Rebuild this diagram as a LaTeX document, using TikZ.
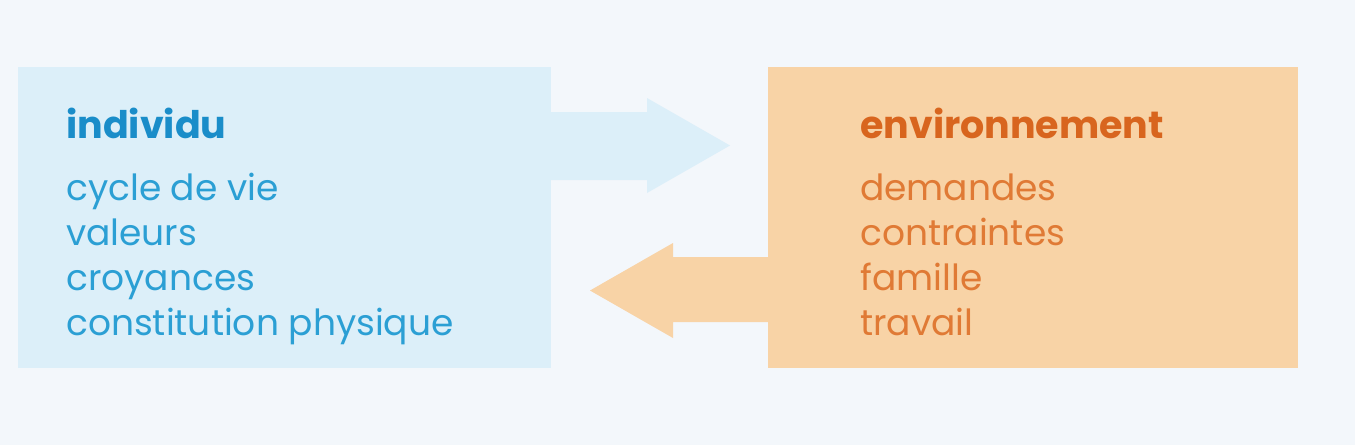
\documentclass[tikz,border=0pt]{standalone}
\usepackage{fontspec}
\setmainfont{Poppins}
\usetikzlibrary{calc}
\definecolor{bg}{HTML}{F3F7FB}
\definecolor{bluefill}{HTML}{DCEFF9}
\definecolor{bluetext}{HTML}{2B9FD4}
\definecolor{bluetitle}{HTML}{1A8DC9}
\definecolor{orangefill}{HTML}{F8D3A6}
\definecolor{orangetext}{HTML}{E07A35}
\definecolor{orangetitle}{HTML}{D8651E}
\tikzset{
  box/.style={rectangle, draw=none, inner sep=0pt, minimum width=533pt, minimum height=301pt, anchor=north west},
  titletext/.style={anchor=base west, inner sep=0pt, font=\fontsize{38}{44}\selectfont\bfseries},
  itemtext/.style={anchor=base west, inner sep=0pt, font=\fontsize{36}{44}\selectfont},
}
\begin{document}
\begin{tikzpicture}[x=1pt,y=-1pt]
\fill[bg] (0,0) rectangle (1355,445);
\useasboundingbox (0,0) rectangle (1355,445);
% boxes
\node[box, fill=bluefill] (ind) at (18,67) {};
\node[box, fill=orangefill, minimum width=530pt] (env) at (768,67) {};
% blue arrow (individu -> environnement)
\fill[bluefill] ($(ind.north east)+(-4,45)$) -- (647,112) -- (647,98) -- (730,145.5)
  -- (647,193) -- (647,180) -- ($(ind.north east)+(-4,113)$) -- cycle;
% orange arrow (environnement -> individu)
\fill[orangefill] ($(env.north west)+(4,190)$) -- (673,257) -- (673,243) -- (590,290.5)
  -- (673,338) -- (673,322) -- ($(env.north west)+(4,255)$) -- cycle;
% texts left
\node[titletext, text=bluetitle] (indt) at (66,138) {individu};
\node[itemtext, text=bluetext] (i1) at (66,200) {cycle de vie};
\node[itemtext, text=bluetext] (i2) at (66,245) {valeurs};
\node[itemtext, text=bluetext] (i3) at (66,290) {croyances};
\node[itemtext, text=bluetext] (i4) at (66,335) {constitution physique};
% texts right
\node[titletext, text=orangetitle] (envt) at (860,138) {environnement};
\node[itemtext, text=orangetext] (e1) at (860,200) {demandes};
\node[itemtext, text=orangetext] (e2) at (860,245) {contraintes};
\node[itemtext, text=orangetext] (e3) at (860,290) {famille};
\node[itemtext, text=orangetext] (e4) at (860,335) {travail};
\end{tikzpicture}
\end{document}
